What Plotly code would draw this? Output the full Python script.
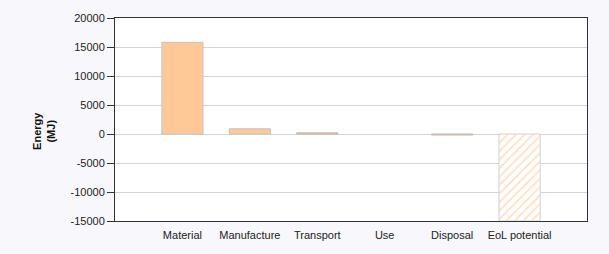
import plotly.graph_objects as go

categories = ["Material", "Manufacture", "Transport", "Use", "Disposal", "EoL potential"]
energy_mj = [15800, 900, 200, 0, -170, -15000]
y_ticks = [-15000, -10000, -5000, 0, 5000, 10000, 15000, 20000]

hatched = [False, False, False, False, False, True]
edge = ["#c4c4c4", "#c4c4c4", "#b8b8b8", "rgba(0,0,0,0)", "#b8b8b8", "#d0d0d0"]

xs = list(range(len(categories)))
solid_idx = [i for i in xs if not hatched[i]]
hatch_idx = [i for i in xs if hatched[i]]

fig = go.Figure()
fig.add_trace(go.Bar(
    x=solid_idx,
    y=[energy_mj[i] for i in solid_idx],
    width=0.61,
    marker=dict(color="#FFC896", line=dict(color=[edge[i] for i in solid_idx], width=1)),
    hoverinfo="skip",
))
fig.add_trace(go.Bar(
    x=hatch_idx,
    y=[energy_mj[i] for i in hatch_idx],
    width=0.61,
    marker=dict(
        color="white",
        line=dict(color=[edge[i] for i in hatch_idx], width=1),
        pattern=dict(shape="/", fgcolor="#FFBF85", size=6, solidity=0.3, fillmode="overlay"),
    ),
    hoverinfo="skip",
))

fig.update_layout(
    width=609, height=254,
    barmode="overlay",
    margin=dict(l=115, r=22, t=16, b=33),
    paper_bgcolor="#f8f8fc",
    plot_bgcolor="white",
    showlegend=False,
    font=dict(family="Liberation Sans, Arial, sans-serif", size=11, color="#222"),
    xaxis=dict(
        range=[-1, 6],
        tickmode="array",
        tickvals=xs,
        ticktext=categories,
        showgrid=False,
        zeroline=False,
        ticks="",
        ticklabelstandoff=4,
        showline=True, linecolor="#333", linewidth=1, mirror=True,
        tickfont=dict(size=11, color="#222"),
    ),
    yaxis=dict(
        range=[-15000, 20000],
        tickvals=y_ticks,
        ticktext=[str(v) for v in y_ticks],
        showgrid=True, gridcolor="#d4d4d4", gridwidth=1,
        zeroline=True, zerolinecolor="#d4d4d4", zerolinewidth=1,
        ticks="outside", ticklen=7, tickcolor="#333",
        showline=True, linecolor="#333", linewidth=1, mirror=True,
        tickfont=dict(size=11, color="#222"),
    ),
    annotations=[dict(
        text="<b>Energy<br>(MJ)</b>",
        xref="paper", yref="paper",
        x=(44 - 115) / 472, y=(221 - 130) / 205,
        xanchor="center", yanchor="middle",
        textangle=-90, showarrow=False,
        font=dict(size=11, color="#111"),
    )],
)

fig.write_html("out.html")
